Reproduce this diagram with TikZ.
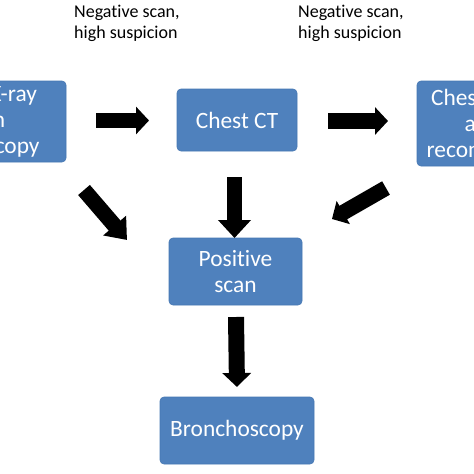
\documentclass[tikz,border=0pt]{standalone}
\usepackage{fontspec}
\setmainfont[Ligatures=NoCommon]{Carlito}
\usetikzlibrary{arrows.meta}
\definecolor{boxblue}{HTML}{4F81BD}
\definecolor{boxedge}{HTML}{4677B3}
\begin{document}
\begin{tikzpicture}[x=1pt,y=-1pt,
  stage/.style={rectangle, rounded corners=4pt, fill=boxblue, draw=boxedge, line width=0.6pt,
    text=white, align=center, inner sep=0pt, font=\fontsize{23.4}{26}\selectfont},
  note/.style={anchor=north west, inner sep=0pt, align=left, font=\fontsize{18}{21.5}\selectfont},
  block/.style={line width=15pt, -{Triangle[length=13pt, width=27pt]}}]
\useasboundingbox (0,0) rectangle (474,474);
\clip (0,0) rectangle (474,474);
\fill[white] (0,0) rectangle (474,474);

% boxes
\node[stage, minimum width=164pt, minimum height=81pt] (xray) at (-16,121.5) {Chest X-ray\\with\\fluoroscopy};
\node[stage, minimum width=120pt, minimum height=62pt] (ct) at (237,120) {Chest CT};
\node[stage, minimum width=158pt, minimum height=85pt] (recon) at (496,123.5) {Chest CT with\\airway\\reconstruction};
\node[stage, minimum width=133pt, minimum height=67pt] (pos) at (235.5,271.5) {Positive\\scan};
\node[stage, minimum width=154pt, minimum height=67pt] (bron) at (237,430.5) {Bronchoscopy};

% labels
\node[note] (n1) at (74,4.5) {Negative scan,\\high suspicion};
\node[note] (n2) at (298,4.5) {Negative scan,\\high suspicion};

% arrow end points
\coordinate (a1s) at (96,120.5);  \coordinate (a1e) at (149,120.5);
\coordinate (a2s) at (328,121);   \coordinate (a2e) at (388,121);
\coordinate (a3s) at (234.5,177); \coordinate (a3e) at (234.5,238);
\coordinate (a4s) at (236,317);   \coordinate (a4e) at (237,387);
\coordinate (a5s) at (84,190);    \coordinate (a5e) at (127,240);
\coordinate (a6s) at (386,188);   \coordinate (a6e) at (332,219);

\draw[block] (a1s) -- (a1e);
\draw[block, line width=16pt] (a2s) -- (a2e);
\draw[block, -{Triangle[length=18pt, width=32pt]}] (a3s) -- (a3e);
\draw[block, line width=16pt, -{Triangle[length=14pt, width=28pt]}] (a4s) -- (a4e);
\draw[block, line width=15.5pt, -{Triangle[length=19pt, width=29pt]}] (a5s) -- (a5e);
\draw[block, line width=15.5pt, -{Triangle[length=13pt, width=26pt]}] (a6s) -- (a6e);
\end{tikzpicture}
\end{document}
